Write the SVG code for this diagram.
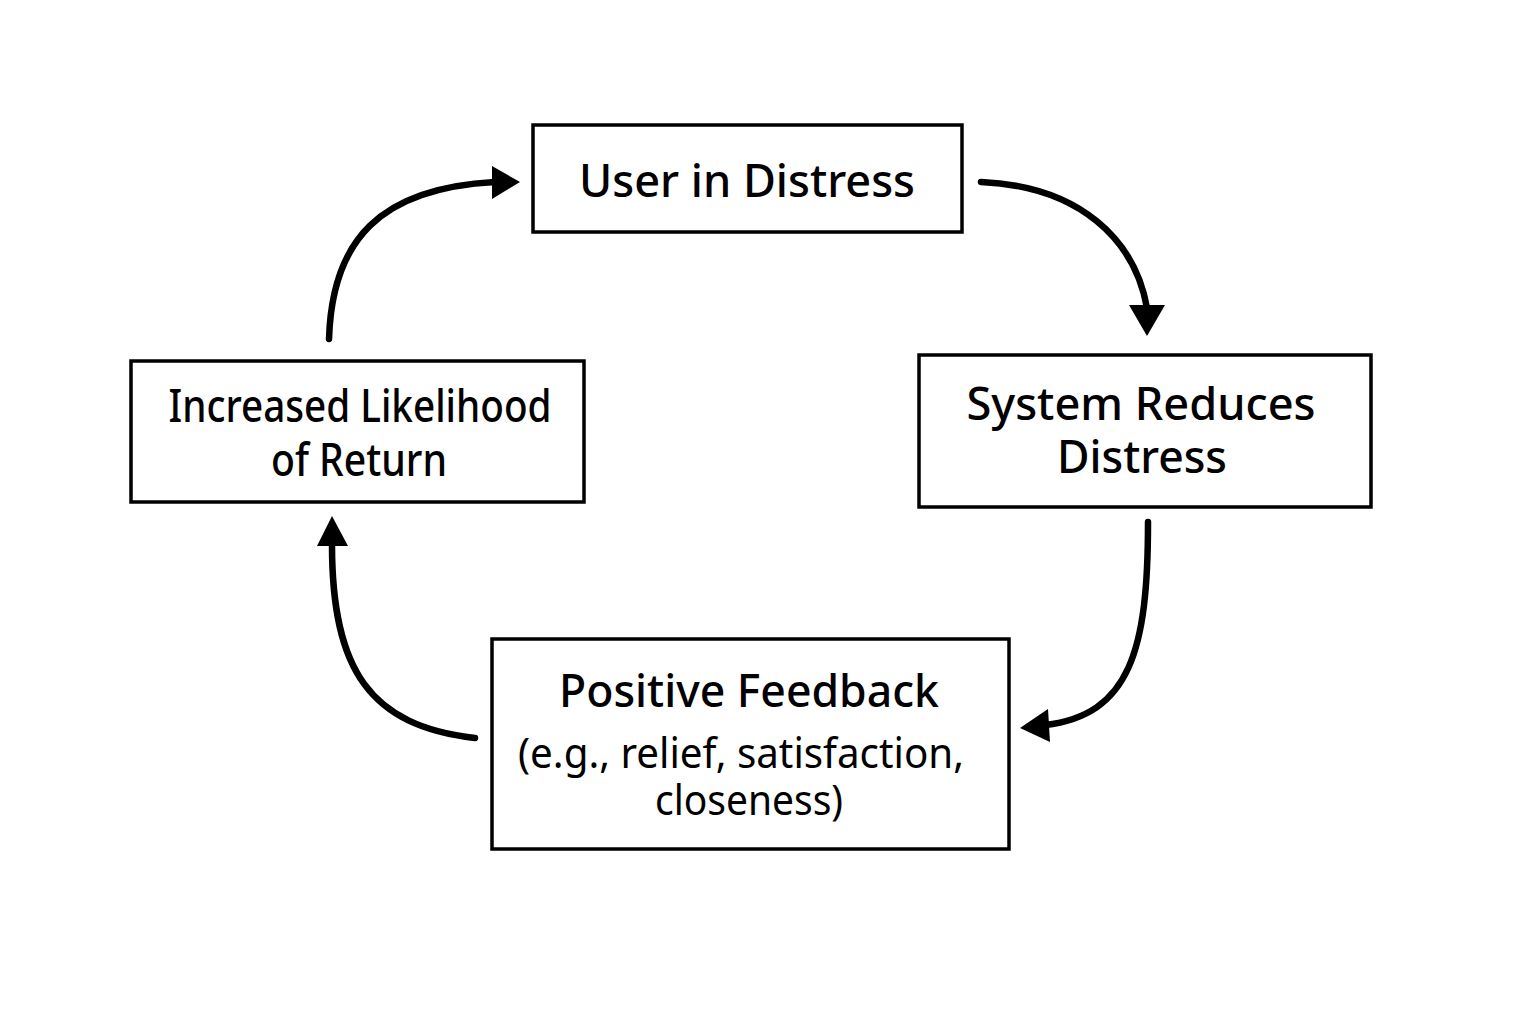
<svg xmlns="http://www.w3.org/2000/svg" width="1536" height="1024" viewBox="0 0 1536 1024">
<defs>
<style>
.box{fill:#fff;stroke:#000;stroke-width:3.5}
.lbl{font-family:"Noto Sans","Open Sans","DejaVu Sans",sans-serif;font-weight:500;fill:#000;text-anchor:middle}
.big{font-size:46px}
.sm{font-size:42px;font-weight:400}
.conn{fill:none;stroke:#000;stroke-width:6.5;stroke-linecap:round}
.head{fill:#000}
</style>
</defs>
<rect width="1536" height="1024" fill="#fff"/>
<g id="connectors">
<path class="conn" d="M981,182 C1080,186 1135,240 1147,308"/>
<polygon class="head" points="1129,305 1165,305 1147,336"/>
<path class="conn" d="M1148,522 C1148,650 1130,715 1045,725"/>
<polygon class="head" points="1048,709 1050,742 1020,728"/>
<path class="conn" d="M475,738 C370,726 332,670 332,545"/>
<polygon class="head" points="317,546 348,546 332,516"/>
<path class="conn" d="M329,339 C332,240 380,188 495,182"/>
<polygon class="head" points="492,166 492,199 520,182"/>
</g>
<g id="node-user">
<rect class="box" x="533" y="125" width="429" height="107"/>
<text class="lbl big" x="747" y="197" textLength="336" lengthAdjust="spacingAndGlyphs">User in Distress</text>
</g>
<g id="node-system">
<rect class="box" x="919" y="355" width="452" height="152"/>
<text class="lbl big" x="1141" y="420" textLength="349" lengthAdjust="spacingAndGlyphs">System Reduces</text>
<text class="lbl big" x="1142" y="473" textLength="170" lengthAdjust="spacingAndGlyphs">Distress</text>
</g>
<g id="node-likelihood">
<rect class="box" x="131" y="361" width="453" height="141"/>
<text class="lbl big" x="360" y="422" textLength="383" lengthAdjust="spacingAndGlyphs">Increased Likelihood</text>
<text class="lbl big" x="359" y="476" textLength="176" lengthAdjust="spacingAndGlyphs">of Return</text>
</g>
<g id="node-feedback">
<rect class="box" x="492" y="639" width="517" height="210"/>
<text class="lbl big" x="749" y="707" textLength="380" lengthAdjust="spacingAndGlyphs">Positive Feedback</text>
<text class="lbl sm" x="741" y="768" textLength="446" lengthAdjust="spacingAndGlyphs">(e.g., relief, satisfaction,</text>
<text class="lbl sm" x="749" y="815" textLength="188" lengthAdjust="spacingAndGlyphs">closeness)</text>
</g>
</svg>
